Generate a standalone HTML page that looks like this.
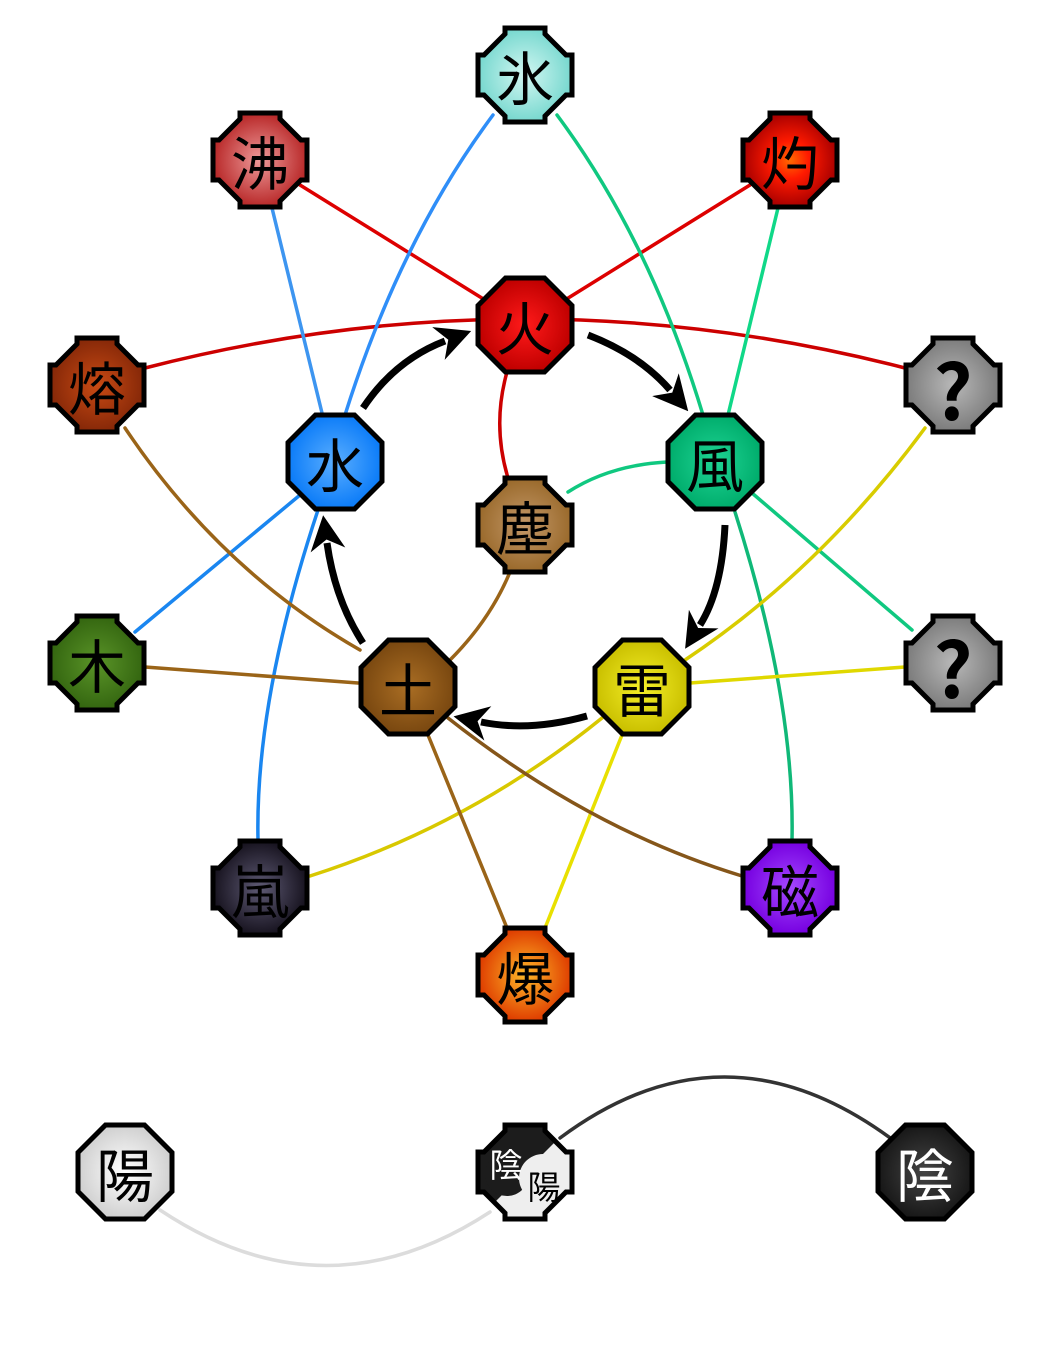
<!DOCTYPE html>
<html><head><meta charset="utf-8"><style>
html,body{margin:0;padding:0;background:#fff;}
svg{display:block;}
text{font-family:"Noto Sans CJK JP","Noto Sans CJK SC",sans-serif;text-anchor:middle;dominant-baseline:central;}
</style></head><body>
<svg width="1050" height="1350" viewBox="0 0 1050 1350" xmlns="http://www.w3.org/2000/svg">
<defs>
<polygon id="oct" points="-19.5,-47 19.5,-47 47,-19.5 47,19.5 19.5,47 -19.5,47 -47,19.5 -47,-19.5"/>
<polygon id="notch" points="-20,-47 20,-47 20,-41 41,-20 47,-20 47,20 41,20 20,41 20,47 -20,47 -20,41 -41,20 -47,20 -47,-20 -41,-20 -20,-41"/>
<marker id="ah" viewBox="0 0 10 10" refX="2" refY="5" markerWidth="5" markerHeight="5" orient="auto" markerUnits="strokeWidth">
<path d="M0,0 L10,5 L0,10 L3,5 Z" fill="#000"/></marker>
<radialGradient id="gIce"><stop offset="0" stop-color="#d2f7f2"/><stop offset="1" stop-color="#78d8cf"/></radialGradient>
<radialGradient id="gBoil"><stop offset="0" stop-color="#ee9a9a"/><stop offset="1" stop-color="#b82828"/></radialGradient>
<radialGradient id="gScorch"><stop offset="0" stop-color="#ff6a00"/><stop offset="0.4" stop-color="#ff1a00"/><stop offset="1" stop-color="#a80000"/></radialGradient>
<radialGradient id="gFire"><stop offset="0" stop-color="#ff1a1a"/><stop offset="1" stop-color="#c00000"/></radialGradient>
<radialGradient id="gLava"><stop offset="0" stop-color="#c84a14"/><stop offset="1" stop-color="#862808"/></radialGradient>
<radialGradient id="gQ"><stop offset="0" stop-color="#b8b8b8"/><stop offset="1" stop-color="#7c7c7c"/></radialGradient>
<radialGradient id="gWater"><stop offset="0" stop-color="#5aaeff"/><stop offset="1" stop-color="#0c7cf8"/></radialGradient>
<radialGradient id="gWind"><stop offset="0" stop-color="#1fd494"/><stop offset="1" stop-color="#00ad6c"/></radialGradient>
<radialGradient id="gDust"><stop offset="0" stop-color="#c49868"/><stop offset="1" stop-color="#9a6a2c"/></radialGradient>
<radialGradient id="gWood"><stop offset="0" stop-color="#5a9428"/><stop offset="1" stop-color="#346610"/></radialGradient>
<radialGradient id="gEarth"><stop offset="0" stop-color="#aa6e24"/><stop offset="1" stop-color="#7a4810"/></radialGradient>
<radialGradient id="gLight"><stop offset="0" stop-color="#f4ee28"/><stop offset="1" stop-color="#cac000"/></radialGradient>
<radialGradient id="gStorm"><stop offset="0" stop-color="#5e5a74"/><stop offset="1" stop-color="#17131f"/></radialGradient>
<radialGradient id="gMag"><stop offset="0" stop-color="#a448ff"/><stop offset="1" stop-color="#7600e0"/></radialGradient>
<radialGradient id="gBoom"><stop offset="0" stop-color="#ffb828"/><stop offset="1" stop-color="#de3c00"/></radialGradient>
<radialGradient id="gYang"><stop offset="0" stop-color="#ffffff"/><stop offset="1" stop-color="#d0d0d0"/></radialGradient>
<radialGradient id="gYin"><stop offset="0" stop-color="#444"/><stop offset="1" stop-color="#181818"/></radialGradient>
<clipPath id="clipN"><use href="#notch"/></clipPath>
</defs>

<g fill="none" stroke-width="3.5" stroke-linecap="round">
<line x1="300" y1="185" x2="485" y2="300" stroke="#dd0000"/>
<line x1="750" y1="185" x2="565" y2="300" stroke="#dd0000"/>
<path d="M145,368 Q525,270 905,368" stroke="#cc0000"/>
<path d="M507,372 Q492,425 508,478" stroke="#cc0000"/>
<path d="M493,115 Q400,240 345,415" stroke="#2f8ef8"/>
<line x1="272" y1="208" x2="322" y2="413" stroke="#3d95f0"/>
<line x1="135" y1="632" x2="300" y2="495" stroke="#1a86f0"/>
<path d="M318,510 Q255,700 258,840" stroke="#1a86f0"/>
<path d="M557,115 Q650,240 703,415" stroke="#10c880"/>
<line x1="778" y1="208" x2="728" y2="415" stroke="#10d888"/>
<path d="M667,462 Q610,465 568,492" stroke="#10c880"/>
<line x1="752" y1="493" x2="912" y2="630" stroke="#10c880"/>
<path d="M735,512 Q795,700 792,840" stroke="#10b878"/>
<path d="M925,428 Q820,570 685,660" stroke="#d8cc00"/>
<line x1="690" y1="683" x2="905" y2="667" stroke="#e0d800"/>
<path d="M602,718 Q470,825 310,876" stroke="#d8c800"/>
<line x1="622" y1="735" x2="545" y2="928" stroke="#e8e000"/>
<path d="M125,428 Q220,570 360,650" stroke="#9a6418"/>
<line x1="145" y1="667" x2="358" y2="683" stroke="#9a6418"/>
<path d="M510,572 Q490,620 450,660" stroke="#9a6418"/>
<path d="M448,718 Q590,830 742,876" stroke="#85561a"/>
<line x1="428" y1="735" x2="507" y2="928" stroke="#9a6418"/>
<path d="M560,1138 Q725,1015 893,1140" stroke="#333"/>
<path d="M160,1210 Q325,1320 490,1212" stroke="#dcdcdc"/>
</g>

<g fill="none" stroke="#000" stroke-width="7" marker-end="url(#ah)">
<path d="M363,408 Q395,360 445,341"/>
<path d="M588,335 Q640,355 670,390"/>
<path d="M725,525 Q722,590 700,625"/>
<path d="M587,716 Q530,732 481,722"/>
<path d="M363,643 Q335,600 327,543"/>
</g>

<g stroke="#000" stroke-width="5" stroke-linejoin="miter">
<use href="#notch" x="525" y="75" fill="url(#gIce)"/>
<use href="#notch" x="260" y="160" fill="url(#gBoil)"/>
<use href="#notch" x="790" y="160" fill="url(#gScorch)"/>
<use href="#oct" x="525" y="325" fill="url(#gFire)"/>
<use href="#notch" x="97" y="385" fill="url(#gLava)"/>
<use href="#notch" x="953" y="385" fill="url(#gQ)"/>
<use href="#oct" x="335" y="462" fill="url(#gWater)"/>
<use href="#oct" x="715" y="462" fill="url(#gWind)"/>
<use href="#notch" x="525" y="525" fill="url(#gDust)"/>
<use href="#notch" x="97" y="663" fill="url(#gWood)"/>
<use href="#notch" x="953" y="663" fill="url(#gQ)"/>
<use href="#oct" x="408" y="687" fill="url(#gEarth)"/>
<use href="#oct" x="642" y="687" fill="url(#gLight)"/>
<use href="#notch" x="260" y="888" fill="url(#gStorm)"/>
<use href="#notch" x="790" y="888" fill="url(#gMag)"/>
<use href="#notch" x="525" y="975" fill="url(#gBoom)"/>
<use href="#oct" x="125" y="1172" fill="url(#gYang)"/>
<use href="#oct" x="925" y="1172" fill="url(#gYin)"/>
</g>

<g transform="translate(525,1172)">
<g clip-path="url(#clipN)">
<rect x="-50" y="-50" width="100" height="100" fill="#eeeeee"/>
<path d="M-50,-50 L50,-50 L-50,50 Z" fill="#1c1c1c"/>
<circle cx="-18" cy="2" r="22" fill="#1c1c1c"/>
<circle cx="18" cy="6" r="24" fill="#eeeeee"/>
</g>
<use href="#notch" fill="none" stroke="#000" stroke-width="5"/>
<text x="-19" y="-9" font-size="33" fill="#fff">陰</text>
<text x="19" y="13" font-size="33" fill="#000">陽</text>
</g>

<g font-size="58" fill="#000">
<text x="525" y="75">氷</text>
<text x="260" y="160">沸</text>
<text x="790" y="160">灼</text>
<text x="525" y="325">火</text>
<text x="97" y="385">熔</text>
<text x="953" y="387" font-family="Liberation Sans, sans-serif" font-weight="bold" font-size="76">?</text>
<text x="335" y="462">水</text>
<text x="715" y="462">風</text>
<text x="525" y="525">塵</text>
<text x="97" y="663">木</text>
<text x="953" y="665" font-family="Liberation Sans, sans-serif" font-weight="bold" font-size="76">?</text>
<text x="408" y="687">土</text>
<text x="642" y="687">雷</text>
<text x="260" y="888">嵐</text>
<text x="790" y="888">磁</text>
<text x="525" y="975">爆</text>
<text x="125" y="1172">陽</text>
<text x="925" y="1172" fill="#fff">陰</text>
</g>
</svg>
</body></html>
